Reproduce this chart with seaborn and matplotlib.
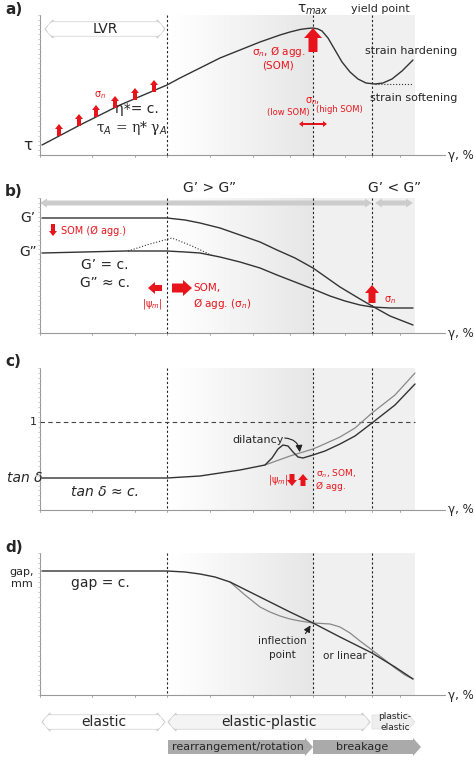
import numpy as np
import matplotlib
matplotlib.use("Agg")
import matplotlib.pyplot as plt
import seaborn as sns
from matplotlib.patches import FancyArrow

sns.set_style("white")
plt.rcParams['font.family'] = ['DejaVu Sans']

RED = '#e8141b'

# curves (x, y in picture pixels)
a_x = [42, 80, 120, 167, 180, 200, 220, 240, 260, 280, 290, 300, 307, 313, 318, 322, 328, 335, 342,
       350, 358, 366, 375, 383, 392, 402, 413]
a_y = [145, 125, 105, 85, 78, 68, 58, 50, 42, 35, 32, 29.5, 28.5, 28, 29, 31, 38, 50, 62,
       72, 79, 83, 84, 83, 79, 71, 60]

b1_x = [42, 167, 185, 200, 220, 240, 260, 277, 295, 313, 340, 360, 372, 390, 413]
b1_y = [218, 218, 220, 223, 228, 235, 242, 250, 258, 268, 287, 299, 306, 316, 325]
b2_x = [42, 125, 167, 185, 200, 220, 240, 260, 277, 295, 313, 330, 345, 360, 372, 390, 413]
b2_y = [253, 251, 251, 252, 253, 257, 262, 268, 275, 282, 289, 296, 301, 305, 307, 308, 308]
bd_x = [128, 150, 172, 192, 213]
bd_y = [251, 244, 238, 246, 256]

c1_x = [42, 167, 200, 220, 240, 255, 265, 272, 278, 283, 288, 293, 298, 303, 313, 325, 340,
        355, 372, 395, 415]
c1_y = [478, 478, 476, 473, 470, 467, 465, 458, 449, 445, 446, 452, 457, 458, 455, 451, 444,
        436, 423, 405, 384]
c2_x = [265, 290, 313, 320, 340, 355, 372, 395, 415]
c2_y = [465, 456, 449, 446, 437, 428, 413, 395, 373]

d1_x = [42, 167, 185, 200, 215, 230, 250, 270, 290, 313, 340, 372, 395, 413]
d1_y = [571, 571, 572, 574, 577, 582, 592, 602, 612, 623, 637, 653, 667, 679]
d2_x = [230, 245, 260, 270, 280, 290, 300, 313, 322, 330, 340, 350, 360, 372, 385, 395, 405, 413]
d2_y = [582, 595, 607, 612, 616, 619, 621, 623, 623.5, 624, 627, 633, 641, 650, 660, 668, 675, 679]

panels = [("a)", 15, 155), ("b)", 198, 333), ("c)", 368, 510), ("d)", 553, 695)]
vlines = [167, 313, 372]

fig = plt.figure(figsize=(4.74, 7.62), dpi=100)
ax = fig.add_axes([0, 0, 1, 1])
ax.set_xlim(0, 474)
ax.set_ylim(762, 0)
ax.axis('off')

# gradient shading and axes frames
grad = np.concatenate([np.linspace(1.0, 0.9, 146), np.full(102, 0.94)])
for lab, top, bot in panels:
    ax.imshow(grad[None, :], cmap='gray', vmin=0, vmax=1, aspect='auto',
              extent=(167, 415, bot, top), zorder=0)
    ax.plot([40, 40], [top, bot], color='#999999', lw=0.8)
    ax.plot([40, 445], [bot, bot], color='#999999', lw=0.8)
    for t in np.linspace(top, bot, 30):
        ax.plot([38, 40], [t, t], color='#bbbbbb', lw=0.5)
    for dec in [40, 92, 135, 167, 210, 253, 290, 313, 345, 372, 400]:
        ax.plot([dec, dec], [bot, bot + 2], color='#999999', lw=0.6)
    for v in vlines:
        ax.plot([v, v], [top, bot], color='#222222', lw=0.8, ls=(0, (2, 2)))
    ax.text(5, top - 6, lab, fontsize=11, fontweight='bold', ha='left', va='center')
    ax.text(448, bot, "γ, %", fontsize=8.5, ha='left', va='center')

def curve(x, y, color='#333333', lw=1.0, ls='-'):
    sns.lineplot(x=x, y=y, ax=ax, sort=False, estimator=None, color=color, lw=lw, ls=ls)

def redarrow(x, y, dx, dy, w=5, hw=10, hl=6, col=RED):
    ax.add_patch(FancyArrow(x, y, dx, dy, width=w, head_width=hw, head_length=hl,
                            length_includes_head=True, color=col, lw=0, zorder=5))

def hollow(x0, x1, y, text, fs=9, fc='white', ec='#cccccc'):
    h = 14
    for sgn in (1, -1):
        ax.add_patch(FancyArrow(x0 + (x1 - x0) / 2, y, sgn * (x1 - x0) / 2, 0, width=h, head_width=h + 4,
                                head_length=8, length_includes_head=True, fc=fc, ec=ec, lw=0.8))
    ax.plot([x0 + 9, x1 - 9], [y, y], color=fc, lw=h * 0.7, zorder=3)
    ax.text((x0 + x1) / 2, y, text, fontsize=fs, ha='center', va='center', zorder=4)

# ---- panel a
curve(a_x, a_y)
ax.plot([375, 413], [84, 84], color='#333333', lw=0.8, ls=':')
for x, y in [(59, 136), (79, 126), (96, 117), (115, 108), (135, 100), (154, 92)]:
    redarrow(x, y, 0, -12, w=4, hw=8, hl=5)
redarrow(313, 52, 0, -24, w=9, hw=18, hl=10)
ax.add_patch(FancyArrow(313, 124, 10, 0, width=2, head_width=6, head_length=4, color=RED, lw=0))
ax.add_patch(FancyArrow(313, 124, -10, 0, width=2, head_width=6, head_length=4, color=RED, lw=0))
hollow(45, 165, 29, "LVR", fs=10)
ax.text(100, 97, "σ$_n$", color=RED, fontsize=7, ha='center')
ax.text(137, 113, "η*= c.", fontsize=10, ha='center')
ax.text(132, 132, "τ$_A$ = η* γ$_A$", fontsize=10, ha='center', family='DejaVu Serif')
ax.text(28, 146, "τ", fontsize=11, ha='center', va='center')
ax.text(313, 10, "τ$_{max}$", fontsize=10, ha='center', va='center')
ax.text(380, 9, "yield point", fontsize=8, ha='center', va='center')
ax.text(457, 51, "strain hardening", fontsize=8, ha='right', va='center')
ax.text(457, 98, "strain softening", fontsize=8, ha='right', va='center')
ax.text(305, 57, "σ$_n$, Ø agg.\n(SOM)", color=RED, fontsize=7.5, ha='right', va='center',
        multialignment='center')
ax.text(313, 101, "σ$_n$,", color=RED, fontsize=7, ha='center', va='center')
ax.text(288, 113, "(low SOM)", color=RED, fontsize=6, ha='center', va='center')
ax.text(339, 110, "(high SOM)", color=RED, fontsize=6, ha='center', va='center')

# ---- panel b
for c, half in [(206, 166), (394, 19)]:
    for sgn in (1, -1):
        ax.add_patch(FancyArrow(c, 203, sgn * half, 0, width=5, head_width=9, head_length=7,
                                length_includes_head=True, color='#cccccc', lw=0))
ax.text(210, 188, "G’ > G”", fontsize=10, ha='center', va='center')
ax.text(395, 188, "G’ < G”", fontsize=10, ha='center', va='center')
curve(b1_x, b1_y)
curve(b2_x, b2_y)
curve(bd_x, bd_y, lw=0.8, ls=':')
ax.text(28, 218, "G’", fontsize=10, ha='center', va='center')
ax.text(28, 252, "G”", fontsize=10, ha='center', va='center')
redarrow(53, 224, 0, 12, w=4, hw=8, hl=5)
ax.text(61, 231, "SOM (Ø agg.)", color=RED, fontsize=7, ha='left', va='center')
ax.text(105, 265, "G’ = c.", fontsize=10, ha='center', va='center')
ax.text(105, 283, "G” ≈ c.", fontsize=10, ha='center', va='center')
redarrow(162, 288, -14, 0, w=6, hw=12, hl=7)
redarrow(172, 288, 20, 0, w=9, hw=16, hl=9)
ax.text(152, 304, "|ψ$_m$|", color=RED, fontsize=7, ha='center', va='center')
ax.text(193, 297, "SOM,\nØ agg. (σ$_n$)", color=RED, fontsize=7.5, ha='left', va='center')
redarrow(372, 303, 0, -18, w=7, hw=14, hl=8)
ax.text(390, 300, "σ$_n$", color=RED, fontsize=7, ha='center', va='center')

# ---- panel c
ax.plot([40, 415], [422, 422], color='#444444', lw=0.8, ls=(0, (4, 3)))
ax.text(33, 422, "1", fontsize=8, ha='center', va='center')
curve(c2_x, c2_y, color='#888888', lw=0.9)
curve(c1_x, c1_y)
ax.text(25, 478, "tan δ", fontsize=10, ha='center', va='center', style='italic')
ax.text(105, 492, "tan δ ≈ c.", fontsize=10, ha='center', va='center', style='italic')
ax.text(258, 440, "dilatancy", fontsize=8, ha='center', va='center')
ax.annotate("", xy=(300, 455), xytext=(282, 438),
            arrowprops=dict(arrowstyle='-|>', connectionstyle='arc3,rad=-0.5', color='#222222', lw=0.8))
ax.text(278, 480, "|ψ$_m$|", color=RED, fontsize=7, ha='center', va='center')
redarrow(292, 474, 0, 12, w=5, hw=10, hl=6)
redarrow(303, 486, 0, -12, w=5, hw=10, hl=6)
ax.text(316, 479, "σ$_n$, SOM,\nØ agg.", color=RED, fontsize=6.5, ha='left', va='center')

# ---- panel d
curve(d2_x, d2_y, color='#888888', lw=0.9)
curve(d1_x, d1_y)
ax.text(22, 578, "gap,\nmm", fontsize=8, ha='center', va='center')
ax.text(100, 583, "gap = c.", fontsize=10, ha='center', va='center')
ax.annotate("", xy=(312, 623), xytext=(304, 636),
            arrowprops=dict(arrowstyle='-|>', color='#222222', lw=0.8))
ax.text(282, 648, "inflection\npoint", fontsize=7.5, ha='center', va='center', linespacing=1.5)
ax.text(345, 656, "or linear", fontsize=7.5, ha='center', va='center')

# ---- bottom region arrows
hollow(42, 165, 722, "elastic", fs=10)
hollow(168, 370, 722, "elastic-plastic", fs=10, fc='#f4f4f4')
ax.add_patch(FancyArrow(372, 722, 43, 0, width=14, head_width=18, head_length=8,
                        length_includes_head=True, fc='#eeeeee', ec='#dddddd', lw=0.5))
ax.text(395, 722, "plastic-\nelastic", fontsize=6.5, ha='center', va='center')
ax.add_patch(FancyArrow(168, 747, 145, 0, width=14, head_width=18, head_length=8,
                        length_includes_head=True, color='#aaaaaa', lw=0))
ax.add_patch(FancyArrow(313, 747, 108, 0, width=14, head_width=18, head_length=8,
                        length_includes_head=True, color='#aaaaaa', lw=0))
ax.text(238, 747, "rearrangement/rotation", fontsize=8, ha='center', va='center')
ax.text(362, 747, "breakage", fontsize=8, ha='center', va='center')

plt.savefig("out.png", dpi=100)
